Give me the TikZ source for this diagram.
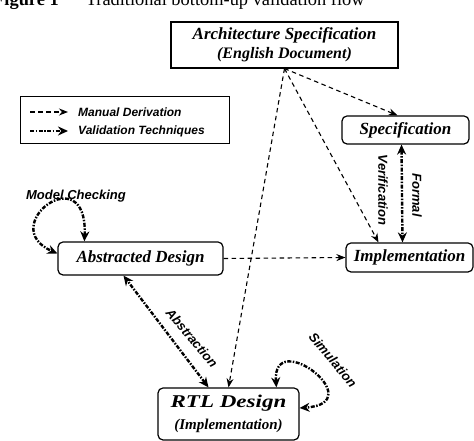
\documentclass[tikz,border=0pt]{standalone}
\usepackage{fontspec}
\setmainfont{Liberation Serif}
\newfontfamily\labelfont{Liberation Sans}
\usetikzlibrary{arrows.meta}

\tikzstyle{block}=[draw,line width=1.2pt,inner sep=0pt,align=center,font=\bfseries\itshape\fontsize{17}{19}\selectfont]
\tikzstyle{rblock}=[block,rounded corners=5pt]
\tikzstyle{tag}=[inner sep=0pt,font=\labelfont\bfseries\itshape\fontsize{13}{15}\selectfont]
\tikzstyle{manual}=[draw,line width=1.1pt,dash pattern=on 4.5pt off 3.5pt,-{Stealth[length=9pt,width=7pt]}]
\tikzstyle{valid}=[draw,line width=2.4pt,dash pattern=on 4pt off 1.5pt on 1.5pt off 1.5pt,{Stealth[length=10pt,width=9pt]}-{Stealth[length=10pt,width=9pt]}]

\begin{document}
\begin{tikzpicture}[x=1pt,y=1pt]
		\useasboundingbox (0,0) rectangle (474,441);
		\clip (0,0) rectangle (474,441);
		\node[anchor=base west,inner sep=0pt,font=\fontsize{18.4}{20}\selectfont] (caption) at (-7,435)
			{\textbf{Figure 1}\hspace{27pt}Traditional bottom-up validation flow};
		% the blocks
		\node[block,minimum width=227pt,minimum height=46pt] (arch) at (284.5,396)
			{Architecture Specification\\[0pt]{\fontsize{16}{18}\selectfont (English Document)}};
		\node[rblock,minimum width=127pt,minimum height=28pt] (spec) at (405.5,311) {Specification};
		\node[rblock,minimum width=127pt,minimum height=29pt] (impl) at (409.5,183.5) {Implementation};
		\node[rblock,minimum width=165pt,minimum height=33pt] (ad) at (140.5,182.5) {Abstracted Design};
		\node[rblock,minimum width=141pt,minimum height=52pt] (rtl) at (228.5,27)
			{{\fontsize{18}{20}\selectfont\scalebox{1.28}[1]{RTL Design}}\\[3pt]{\fontsize{15}{17}\selectfont (Implementation)}};
		% legend
		\node[draw,line width=1pt,minimum width=209pt,minimum height=47pt] (legend) at (124.5,320.5) {};
		\coordinate (m1) at (30,329);
		\coordinate (m2) at (68,329);
		\coordinate (v1) at (30,310);
		\coordinate (v2) at (68,310);
		\path[manual] (m1) -- (m2);
		\path[valid,-{Stealth[length=10pt,width=9pt]}] (v1) -- (v2);
		\node[tag,anchor=west,font=\labelfont\bfseries\itshape\fontsize{12}{14}\selectfont] (lmanual) at (78,329) {Manual Derivation};
		\node[tag,anchor=west,font=\labelfont\bfseries\itshape\fontsize{12}{14}\selectfont] (lvalid) at (78,310) {Validation Techniques};
		% manual derivations
		\foreach \dest/\dx in {spec/-8, impl/-31, rtl/0}
			\path[manual] (arch.south) -- ([xshift=\dx pt]\dest.north);
		\path[manual] (ad.east) -- (impl.west);
		% validation techniques
		\path[valid] ([xshift=-4pt]spec.south) -- ([xshift=-7pt]impl.north);
		\path[valid] ([xshift=-20pt]rtl.north) -- ([xshift=-17pt]ad.south);
		\path[valid] ([xshift=27pt]ad.north west) .. controls (88,285) and (-5,215) .. ([yshift=5pt]ad.west);
		\path[valid] ([xshift=119pt]rtl.north west) .. controls (272,115) and (372,38) .. ([yshift=6pt]rtl.east);
		% labels
		\node[tag] (lmodel) at (76,245) {Model Checking};
		\node[tag,rotate=-90] (lformal) at (417,246) {Formal};
		\node[tag,rotate=-90] (lverif) at (383,251) {Verification};
		\node[tag,rotate=-50] (labs) at (192,103) {Abstraction};
		\node[tag,rotate=-50] (lsim) at (333,81) {Simulation};
\end{tikzpicture}
\end{document}
